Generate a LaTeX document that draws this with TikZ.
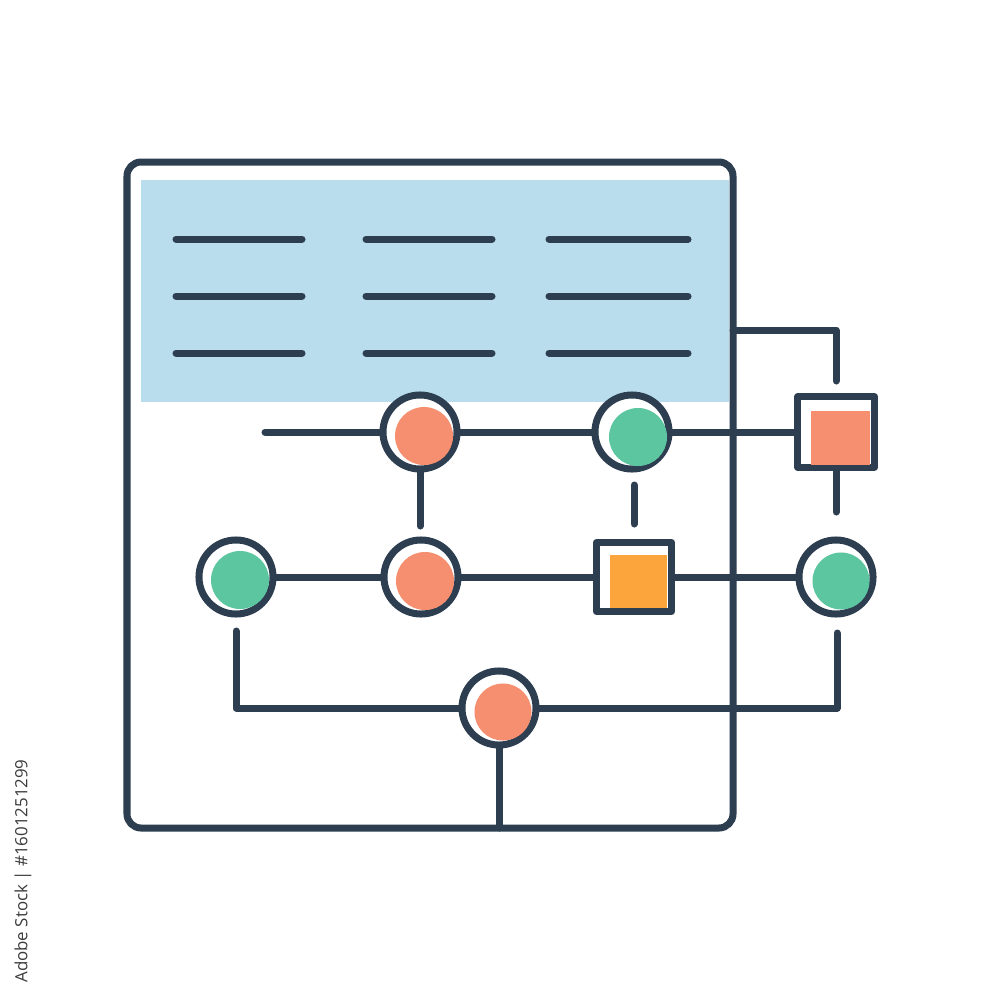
\documentclass[tikz,border=0pt]{standalone}
\usepackage{fontspec}
\newfontfamily\labelfont{Open Sans}
\definecolor{navy}{HTML}{2C3E50}
\definecolor{paneblue}{HTML}{B9DDED}
\definecolor{salmon}{HTML}{F58F6F}
\definecolor{mint}{HTML}{5CC6A0}
\definecolor{amber}{HTML}{FBA53C}
\definecolor{labelgray}{HTML}{3C3C3C}
\begin{document}
\begin{tikzpicture}[x=0.01cm,y=-0.01cm,
  ink/.style={draw=navy,line width=0.7mm,line cap=round,line join=round},
  dot/.style={circle,ink,fill=white,minimum size=0.74cm,inner sep=0pt},
  box/.style={rectangle,ink,fill=white,inner sep=0pt,minimum width=0.77cm,minimum height=0.70cm},
  spot/.style={fill=#1},
]
\fill[white] (0,0) rectangle (1000,1000);
\useasboundingbox (0,0) rectangle (1000,1000);
% window
\fill[paneblue] (141,180) rectangle (729,402);
\draw[ink,rounded corners=0.14cm] (127,162) rectangle (733,828);
\foreach \y in {239,296,353}{
  \draw[ink] (176,\y) -- (302,\y);
  \draw[ink] (366,\y) -- (492,\y);
  \draw[ink] (549,\y) -- (688,\y);
}
% nodes
\node[dot] (c1) at (420,432) {};
\node[dot] (c2) at (632,432) {};
\node[box] (s1) at (836,432) {};
\node[dot] (m1) at (236,577) {};
\node[dot] (m2) at (421,577) {};
\node[box,minimum width=0.75cm,minimum height=0.69cm] (s2) at (634,577) {};
\node[dot] (m4) at (836,577) {};
\node[dot] (b1) at (499,708) {};
% inner fills
\fill[spot=salmon] (424,436) circle[radius=0.29cm];
\fill[spot=mint] (638,437) circle[radius=0.29cm];
\fill[spot=salmon] (811,411) rectangle (870,465);
\fill[spot=mint] (240,580) circle[radius=0.29cm];
\fill[spot=salmon] (425,581) circle[radius=0.29cm];
\fill[spot=amber] (610,555) rectangle (667,608);
\fill[spot=mint] (841,581) circle[radius=0.285cm];
\fill[spot=salmon] (503,712) circle[radius=0.285cm];
% free ends
\coordinate (t0) at (265,432);
\coordinate (fr) at (733,330);
\coordinate (e1) at (836,381);
\coordinate (e2) at (836,512);
\coordinate (e3) at (420,526);
\coordinate (d1) at (634,485);
\coordinate (d2) at (634,524);
\coordinate (e4) at (236,631);
\coordinate (e5) at (837,633);
\coordinate (fb) at (499,828);
% connectors
\draw[ink] (t0) -- (c1);
\draw[ink] (c1) -- (c2);
\draw[ink] (c2) -- (s1);
\draw[ink] (fr) -| (e1);
\draw[ink] (s1) -- (e2);
\draw[ink] (c1) -- (e3);
\draw[ink] (d1) -- (d2);
\draw[ink] (m1) -- (m2);
\draw[ink] (m2) -- (s2);
\draw[ink] (s2) -- (m4);
\draw[ink] (e4) |- (b1);
\draw[ink] (b1) -| (e5);
\draw[ink] (b1) -- (fb);
% side label
\node[rotate=90,text=labelgray,font=\labelfont\fontsize{4.8}{5}\selectfont,inner sep=0pt] (wm) at (23,871) {Adobe Stock | \#1601251299};
\end{tikzpicture}
\end{document}
